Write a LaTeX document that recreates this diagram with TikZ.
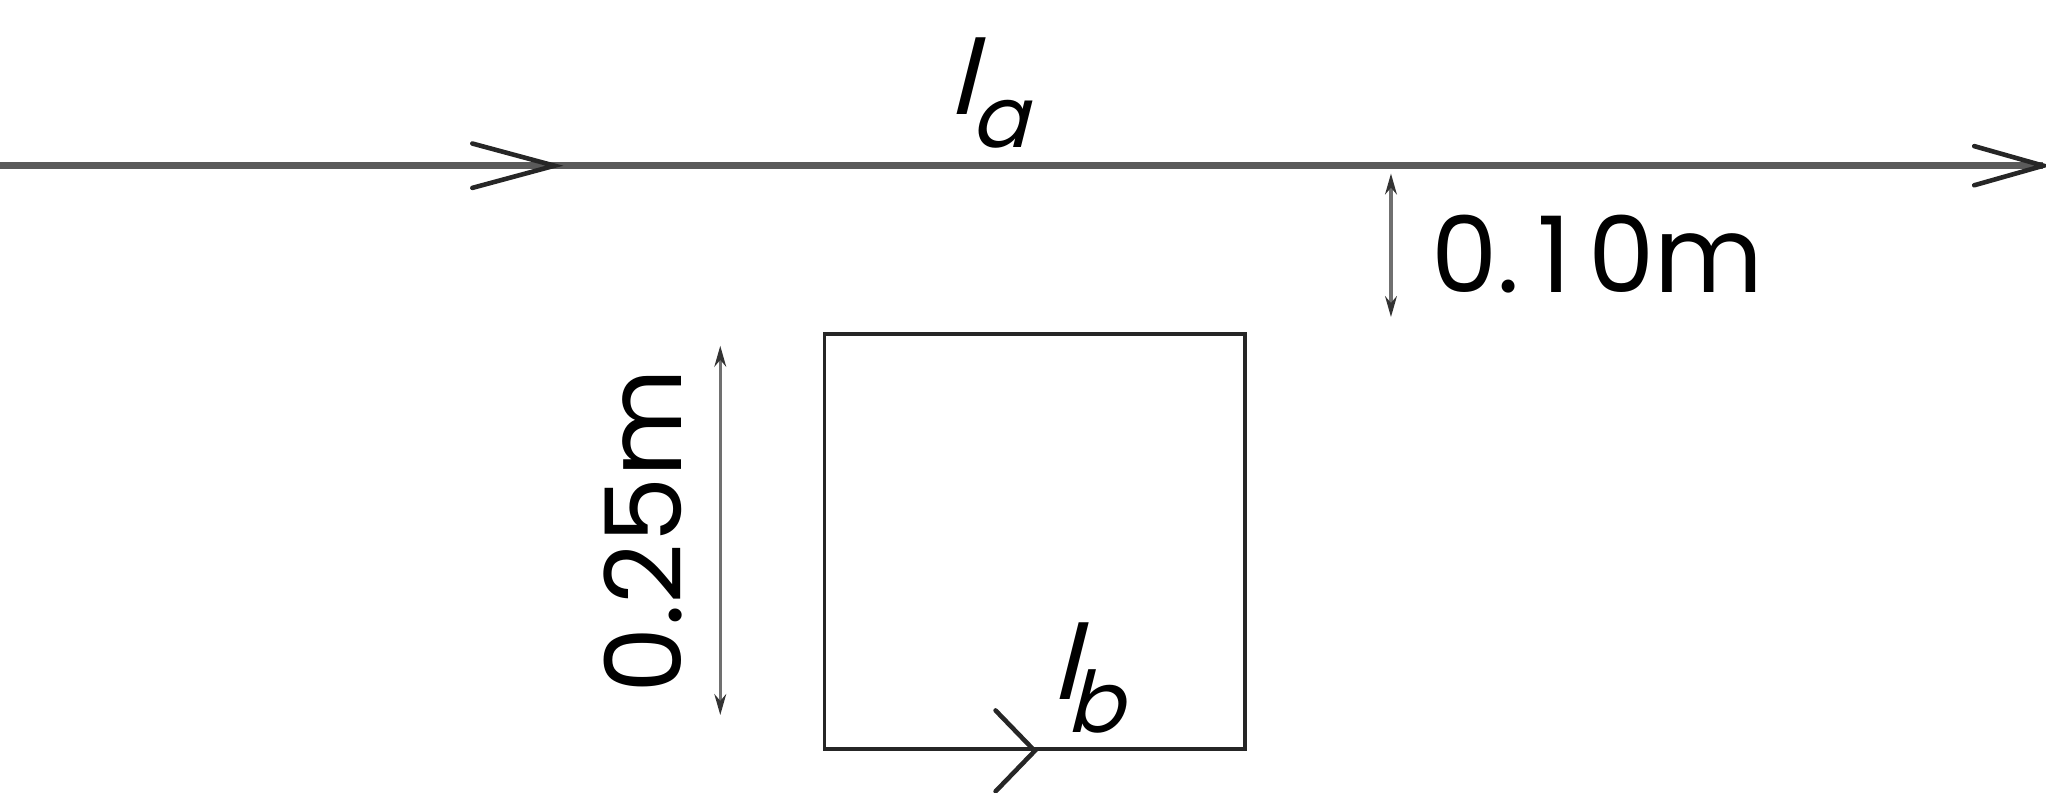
\documentclass[tikz,border=0pt]{standalone}
\usepackage{fontspec}
\setmainfont{Poppins}
\newfontfamily\slfont[FakeSlant=0.25]{Poppins}
\usetikzlibrary{arrows.meta,calc}
\definecolor{wiregray}{HTML}{5A5A5A}
\definecolor{dimgray}{HTML}{707070}
\newcommand{\subsc}[1]{\raisebox{-0.3em}{\fontsize{18.5}{22}\selectfont #1}}
\begin{document}
\begin{tikzpicture}[x=0.01cm,y=-0.01cm,
  wire/.style={draw=wiregray,line width=1.4pt},
  loopline/.style={draw=black!85,line width=0.8pt},
  chev/.style={draw=black!85,line width=1pt,line cap=round,line join=miter},
  dimarrow/.style={draw=dimgray,line width=0.7pt,{Stealth[length=1.6mm,width=0.9mm,black!80]}-{Stealth[length=1.6mm,width=0.9mm,black!80]}},
  lbl/.style={font=\fontsize{23}{28}\selectfont,inner sep=0pt},
  curlbl/.style={font=\fontsize{24}{28}\selectfont,inner sep=0pt,anchor=base west}]
\useasboundingbox (0,0) rectangle (1568,607.7);
% long wire
\coordinate (wl) at (0,127);
\coordinate (wr) at (1566,127);
\draw[wire] (wl) -- (wr);
\coordinate (m1) at (425,127);
\draw[chev] ($(m1)+(-63,-17)$) -- (m1) -- ($(m1)+(-63,17)$);
\draw[chev] ($(wr)+(-53,-15)$) -- (wr) -- ($(wr)+(-53,15)$);
\node[curlbl] (Ia) at (726,88) {\slfont I\kern-1pt\subsc{a}};
% square loop
\node[loopline,draw,minimum width=3.22cm,minimum height=3.18cm,inner sep=0pt] (sq) at (793,415) {};
\draw[chev] ($(sq.south)+(-30,-31)$) -- (sq.south) -- ($(sq.south)+(-30,31)$);
\node[curlbl] (Ib) at (805,536) {\slfont I\kern-2.5pt\subsc{b}};
% dimension 0.10m
\coordinate (d1a) at (1066,133);
\coordinate (d1b) at (1066,243);
\draw[dimarrow] (d1a) -- (d1b);
\node[lbl,anchor=west] (t1) at (1096,195) {0.\kern4pt 1\kern3.6pt 0m};
% dimension 0.25m
\coordinate (d2a) at (552,265);
\coordinate (d2b) at (552,548);
\draw[dimarrow] (d2a) -- (d2b);
\node[lbl,rotate=90] (t2) at (493,407) {0.25m};
\end{tikzpicture}
\end{document}
